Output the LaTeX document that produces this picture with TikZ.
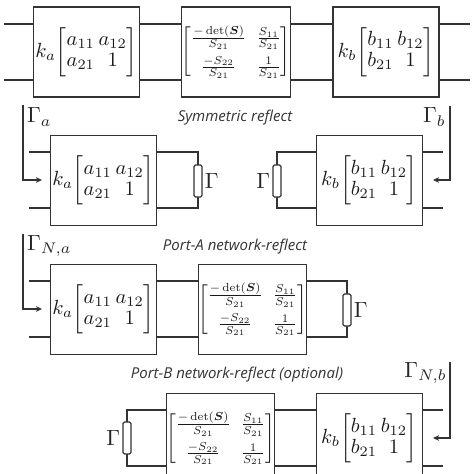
\documentclass[tikz,border=0pt]{standalone}
\usepackage{amsmath,bm,graphicx}
\usepackage{fontspec}
\newfontfamily\capfont{Open Sans}
\usetikzlibrary{arrows.meta,calc}
\newcommand{\Amat}{\scalebox{2.05}{$k_a\!\setlength\arraycolsep{0.9pt}\renewcommand\arraystretch{0.85}\begin{bmatrix}a_{11} & a_{12}\\ a_{21} & 1\end{bmatrix}$}}
\newcommand{\Bmat}{\scalebox{2.05}{$k_b\!\setlength\arraycolsep{0.9pt}\renewcommand\arraystretch{0.85}\begin{bmatrix}b_{11} & b_{12}\\ b_{21} & 1\end{bmatrix}$}}
\newcommand{\Smat}{\scalebox{1.65}{$\setlength\arraycolsep{3.2pt}\begin{bmatrix}\frac{-\det(\bm{S})}{S_{21}} & \frac{S_{11}}{S_{21}}\\[5pt] \frac{-S_{22}}{S_{21}} & \frac{1}{S_{21}}\end{bmatrix}$}}
\newcommand{\G}[1]{\scalebox{2.2}{$#1$}}
\begin{document}
\begin{tikzpicture}[x=1pt,y=-1pt,
  blk/.style={draw=black!80, line width=1.3pt, minimum width=106pt, minimum height=90pt, inner sep=0pt, text=black!90},
  res/.style={draw=black!80, line width=1.2pt, rounded corners=1.5pt, minimum width=8pt, minimum height=32pt, inner sep=0pt, fill=white},
  wire/.style={draw=black!80, line width=1.3pt},
  arr/.style={draw=black!80, line width=1.3pt, -{Stealth[length=6pt,width=5.5pt,inset=1.5pt]}},
  captxt/.style={font=\capfont\itshape\fontsize{15}{18}\selectfont, text=black!80, inner sep=0pt},
  lbl/.style={inner sep=0pt, text=black!85}]
\useasboundingbox (0,0) rectangle (474,474);
\clip (0,0) rectangle (474,474);
\fill[white] (0,0) rectangle (474,474);

% ---------- Row 1 ----------
\node[blk] (A1) at (86.5,52) {\Amat};
\node[blk] (S1) at (236,52) {\Smat};
\node[blk] (B1) at (386,52) {\Bmat};
\coordinate (L1t) at (4,24); \coordinate (L1b) at (4,80);
\coordinate (R1t) at (470,24); \coordinate (R1b) at (470,80);
\draw[wire] (L1t) -- (A1.west |- L1t);
\draw[wire] (L1b) -- (A1.west |- L1b);
\draw[wire] (A1.east |- L1t) -- (S1.west |- L1t);
\draw[wire] (A1.east |- L1b) -- (S1.west |- L1b);
\draw[wire] (S1.east |- L1t) -- (B1.west |- L1t);
\draw[wire] (S1.east |- L1b) -- (B1.west |- L1b);
\draw[wire] (B1.east |- R1t) -- (R1t);
\draw[wire] (B1.east |- R1b) -- (R1b);

% ---------- Row 2 ----------
\node[captxt] (T2) at (235,118) {Symmetric reflect};
\node[blk] (A2) at (103.5,180.5) {\Amat};
\node[blk] (B2) at (369.5,180.5) {\Bmat};
\coordinate (L2t) at (29,152); \coordinate (L2b) at (29,208);
\coordinate (R2t) at (443,152); \coordinate (R2b) at (443,208);
\coordinate (G2a) at (198,152); \coordinate (G2b) at (198,208);
\coordinate (H2a) at (277,152); \coordinate (H2b) at (277,208);
\draw[wire] (L2t) -- (A2.west |- L2t);
\draw[wire] (L2b) -- (A2.west |- L2b);
\draw[wire] (A2.east |- G2a) -- (G2a) -- (G2b) -- (A2.east |- G2b);
\node[res] (RA2) at (198,181) {};
\node[lbl, anchor=west, xshift=2pt] (GA2) at (RA2.east) {\G{\Gamma}};
\draw[wire] (B2.west |- H2a) -- (H2a) -- (H2b) -- (B2.west |- H2b);
\node[res] (RB2) at (277,181) {};
\node[lbl, anchor=east, xshift=-2pt] (GB2) at (RB2.west) {\G{\Gamma}};
\draw[wire] (B2.east |- R2t) -- (R2t);
\draw[wire] (B2.east |- R2b) -- (R2b);
\coordinate (PA2s) at (23,105); \coordinate (PA2c) at (23,180); \coordinate (PA2e) at (42,180);
\draw[arr] (PA2s) -- (PA2c) -- (PA2e);
\node[lbl, anchor=west] (GaL) at (27,117) {\G{\Gamma_a}};
\coordinate (PB2s) at (450,106); \coordinate (PB2c) at (450,180); \coordinate (PB2e) at (433,180);
\draw[arr] (PB2s) -- (PB2c) -- (PB2e);
\node[lbl, anchor=east] (GbL) at (446,117) {\G{\Gamma_b}};

% ---------- Row 3 ----------
\node[captxt] (T3) at (235,247) {Port-A network-reflect};
\node[blk] (A3) at (103.5,309.5) {\Amat};
\node[blk] (S3) at (252.5,309.5) {\Smat};
\coordinate (L3t) at (29,281); \coordinate (L3b) at (29,337);
\coordinate (G3a) at (347,281); \coordinate (G3b) at (347,337);
\draw[wire] (L3t) -- (A3.west |- L3t);
\draw[wire] (L3b) -- (A3.west |- L3b);
\draw[wire] (A3.east |- L3t) -- (S3.west |- L3t);
\draw[wire] (A3.east |- L3b) -- (S3.west |- L3b);
\draw[wire] (S3.east |- G3a) -- (G3a) -- (G3b) -- (S3.east |- G3b);
\node[res] (RA3) at (347,310) {};
\node[lbl, anchor=west, xshift=2pt] (GA3) at (RA3.east) {\G{\Gamma}};
\coordinate (PA3s) at (23,234); \coordinate (PA3c) at (23,309); \coordinate (PA3e) at (42,309);
\draw[arr] (PA3s) -- (PA3c) -- (PA3e);
\node[lbl, anchor=west] (GNaL) at (27,246) {\G{\Gamma_{N,a}}};

% ---------- Row 4 ----------
\node[captxt] (T4) at (237,375) {Port-B network-reflect (optional)};
\node[blk] (S4) at (220.5,438.5) {\Smat};
\node[blk] (B4) at (369.5,438.5) {\Bmat};
\coordinate (G4a) at (127,410); \coordinate (G4b) at (127,466);
\coordinate (R4t) at (443,410); \coordinate (R4b) at (443,466);
\draw[wire] (S4.west |- G4a) -- (G4a) -- (G4b) -- (S4.west |- G4b);
\node[res] (RB4) at (127,438) {};
\node[lbl, anchor=east, xshift=-2pt] (GB4) at (RB4.west) {\G{\Gamma}};
\draw[wire] (S4.east |- G4a) -- (B4.west |- G4a);
\draw[wire] (S4.east |- G4b) -- (B4.west |- G4b);
\draw[wire] (B4.east |- R4t) -- (R4t);
\draw[wire] (B4.east |- R4b) -- (R4b);
\coordinate (PB4s) at (450,362); \coordinate (PB4c) at (450,438); \coordinate (PB4e) at (433,438);
\draw[arr] (PB4s) -- (PB4c) -- (PB4e);
\node[lbl, anchor=east] (GNbL) at (447,373) {\G{\Gamma_{N,b}}};
\end{tikzpicture}
\end{document}
